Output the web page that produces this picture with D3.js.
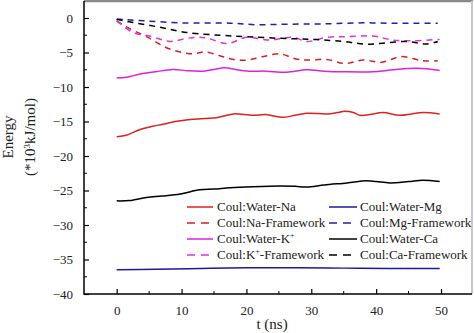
<!DOCTYPE html>
<html><head><meta charset="utf-8">
<script src="https://cdn.jsdelivr.net/npm/d3@7"></script>
<style>body{margin:0;background:#fff}svg{display:block}</style>
</head><body><svg id="c" width="474" height="333"></svg>
<script>
// t (ns)
const waterNaT = [0,1.5,3.5,5.5,7.1,9,11.3,13,14.9,16.5,18,21,23,25.6,27.5,29.3,32.4,34,35.2,36.5,37.5,39,41,43.6,45.5,47.2,49.8];
const waterNa  = [-17.2,-17.0,-16.2,-15.7,-15.4,-15.0,-14.7,-14.6,-14.5,-14.2,-13.9,-14.1,-14.0,-14.4,-14.1,-13.8,-13.9,-13.7,-13.5,-13.7,-14.1,-14.0,-13.7,-14.1,-13.9,-13.7,-13.9];
const naFwT = [0,1.5,4.6,8.2,11.8,13.6,16,18,20,22.5,25.2,27.5,29.3,32.4,35.2,38,40.9,43.9,47.2,49.5];
const naFw  = [-0.4,-1.3,-2.7,-4.5,-5.2,-4.9,-5.5,-6.0,-6.1,-5.6,-5.2,-5.9,-6.1,-6.0,-6.6,-6.1,-6.4,-5.6,-6.2,-6.2];
const waterKT = [0,1.5,3.6,6,8.7,11,13.3,15,16.7,18.5,20.5,23,26.2,29.3,32,35,39.5,42.7,46.3,49.8];
const waterK  = [-8.7,-8.6,-8.1,-7.8,-7.45,-7.65,-7.7,-7.45,-7.2,-7.5,-7.7,-7.7,-7.85,-7.5,-7.7,-7.8,-7.8,-7.5,-7.3,-7.6];
const kFwT = [0,2.5,5.1,8.2,10.5,12.3,13.9,17,20,23.6,27.2,29.3,32.4,35.5,39.5,42.6,45.7,49.8];
const kFw  = [-0.4,-2.1,-2.6,-3.4,-3.0,-2.8,-2.9,-3.7,-2.8,-3.2,-2.8,-3.4,-2.8,-2.7,-2.6,-3.2,-3.3,-3.1];
const waterMgT = [0,6,12.9,20,28,35,42,49.8];
const waterMg  = [-36.5,-36.4,-36.3,-36.2,-36.2,-36.25,-36.3,-36.3];
const mgFwT = [0,1.5,4.6,9.8,17.5,21.6,26,30.3,34,38,42,45.7,49.5];
const mgFw  = [-0.15,-0.25,-0.43,-0.7,-0.75,-0.97,-0.9,-0.87,-0.8,-0.7,-0.75,-0.75,-0.75];
const waterCaT = [0,2,4.6,7,9.8,12.8,15,17.5,21,25.2,27.5,29.3,32,35.5,38.5,40,42.1,45,47.2,49.8];
const waterCa  = [-26.5,-26.45,-26.0,-25.8,-25.5,-24.9,-24.8,-24.6,-24.45,-24.35,-24.4,-24.5,-24.2,-23.9,-23.6,-23.7,-23.9,-23.7,-23.5,-23.7];
const caFwT = [0,1.6,6.2,10.8,15.9,20,25.2,30.3,34.9,38.5,41.6,44.7,47.8,49.5];
const caFw  = [-0.2,-0.5,-1.26,-2.1,-2.5,-2.7,-2.95,-3.1,-3.4,-3.8,-3.6,-3.4,-3.77,-3.4];

const xTicks = [0,10,20,30,40,50];
const xMinor = [5,15,25,35,45];
const yTicks = [0,-5,-10,-15,-20,-25,-30,-35,-40];
const yMinor = [-2.5,-7.5,-12.5,-17.5,-22.5,-27.5,-32.5,-37.5];

const series = [
  {name:"Coul:Water-Na", t:waterNaT, v:waterNa, color:"#e0201f", dash:null},
  {name:"Coul:Water-Mg", t:waterMgT, v:waterMg, color:"#1a1a9a", dash:null},
  {name:"Coul:Na-Framework", t:naFwT, v:naFw, color:"#d42028", dash:"6,5"},
  {name:"Coul:Mg-Framework", t:mgFwT, v:mgFw, color:"#2020a8", dash:"6,5"},
  {name:"Coul:Water-K", sup:"+", t:waterKT, v:waterK, color:"#e020e0", dash:null},
  {name:"Coul:Water-Ca", t:waterCaT, v:waterCa, color:"#000000", dash:null},
  {name:"Coul:K", sup:"+", tail:"-Framework", t:kFwT, v:kFw, color:"#e030e0", dash:"6,5"},
  {name:"Coul:Ca-Framework", t:caFwT, v:caFw, color:"#000000", dash:"6,5"}
];

const FF = '"Liberation Serif", "DejaVu Serif", serif';
const svg = d3.select("#c");
const x = d3.scaleLinear().domain([0,50]).range([116.7,441]);
const y = d3.scaleLinear().domain([-40,0]).range([294,18]);
const L=84, R=472, T=1, B=294;

svg.append("line").attr("x1",L).attr("x2",R+1).attr("y1",T).attr("y2",T).attr("stroke","#8a8a8a").attr("stroke-width",2.5);
svg.append("line").attr("x1",R).attr("x2",R).attr("y1",T).attr("y2",B).attr("stroke","#c8c8c8").attr("stroke-width",2);

const line = d3.line().x((d)=>x(d[0])).y((d)=>y(d[1])).curve(d3.curveCatmullRom.alpha(0.5));
series.forEach(s=>{
  svg.append("path").attr("d",line(s.t.map((t,i)=>[t,s.v[i]])))
    .attr("fill","none").attr("stroke",s.color).attr("stroke-width",1.5)
    .attr("stroke-dasharray",s.dash);
});

const gx = svg.append("g").attr("transform",`translate(0,${B})`);
gx.call(d3.axisBottom(x).tickValues(xTicks).tickSize(-5).tickPadding(9).tickFormat(d3.format("d")));
gx.attr("font-family",null);
gx.select(".domain").remove();
gx.selectAll(".tick line").attr("stroke","#000").attr("stroke-width",1.2);
gx.selectAll("text").style("font-family",FF).attr("font-size",13).attr("fill","#222").attr("dy","0.9em");
gx.selectAll(".minor").data(xMinor).enter().append("line").attr("x1",d=>x(d)).attr("x2",d=>x(d)).attr("y1",0).attr("y2",-3).attr("stroke","#000");

const gy = svg.append("g").attr("transform",`translate(${L},0)`);
gy.call(d3.axisLeft(y).tickValues(yTicks).tickSize(-5).tickPadding(11).tickFormat(d=>d===0?"0":"\u2212"+Math.abs(d)));
gy.attr("font-family",null);
gy.select(".domain").remove();
gy.selectAll(".tick line").attr("stroke","#000").attr("stroke-width",1.2);
gy.selectAll("text").style("font-family",FF).attr("font-size",13).attr("fill","#222");
gy.selectAll(".minor").data(yMinor).enter().append("line").attr("y1",d=>y(d)).attr("y2",d=>y(d)).attr("x1",0).attr("x2",3).attr("stroke","#000");

svg.append("line").attr("x1",L).attr("x2",L).attr("y1",T).attr("y2",B+0.75).attr("stroke","#000").attr("stroke-width",1.5);
svg.append("line").attr("x1",L).attr("x2",R).attr("y1",B).attr("y2",B).attr("stroke","#000").attr("stroke-width",1.5);

svg.append("text").style("font-family",FF).attr("x",272).attr("y",329).attr("text-anchor","middle").attr("font-size",15).attr("fill","#222").text("t (ns)");
svg.append("text").style("font-family",FF).attr("transform","translate(13,137) rotate(-90)").attr("text-anchor","middle").attr("font-size",15).attr("fill","#222").text("Energy");
const yl2 = svg.append("text").style("font-family",FF).attr("transform","translate(35,137) rotate(-90)").attr("text-anchor","middle").attr("font-size",15).attr("fill","#222");
yl2.append("tspan").text("(*10");
yl2.append("tspan").attr("font-size",9).attr("dy",-5).text("3");
yl2.append("tspan").attr("dy",5).text("kJ/mol)");

const cols=[[187,213,217],[329,357,360]];
const rows=[207,223,239,255];
series.forEach((s,i)=>{
  const c=cols[i%2], r=rows[Math.floor(i/2)];
  svg.append("line").attr("x1",c[0]).attr("x2",c[1]).attr("y1",r).attr("y2",r)
    .attr("stroke",s.color).attr("stroke-width",1.5).attr("stroke-dasharray",s.dash?"8,6":null);
  const t=svg.append("text").style("font-family",FF).attr("x",c[2]).attr("y",r+4).attr("font-size",13).attr("fill","#222");
  t.append("tspan").text(s.name);
  if(s.sup){ t.append("tspan").attr("font-size",8).attr("dy",-5).text(s.sup);
    if(s.tail) t.append("tspan").attr("dy",5).text(s.tail); }
});
</script></body></html>
